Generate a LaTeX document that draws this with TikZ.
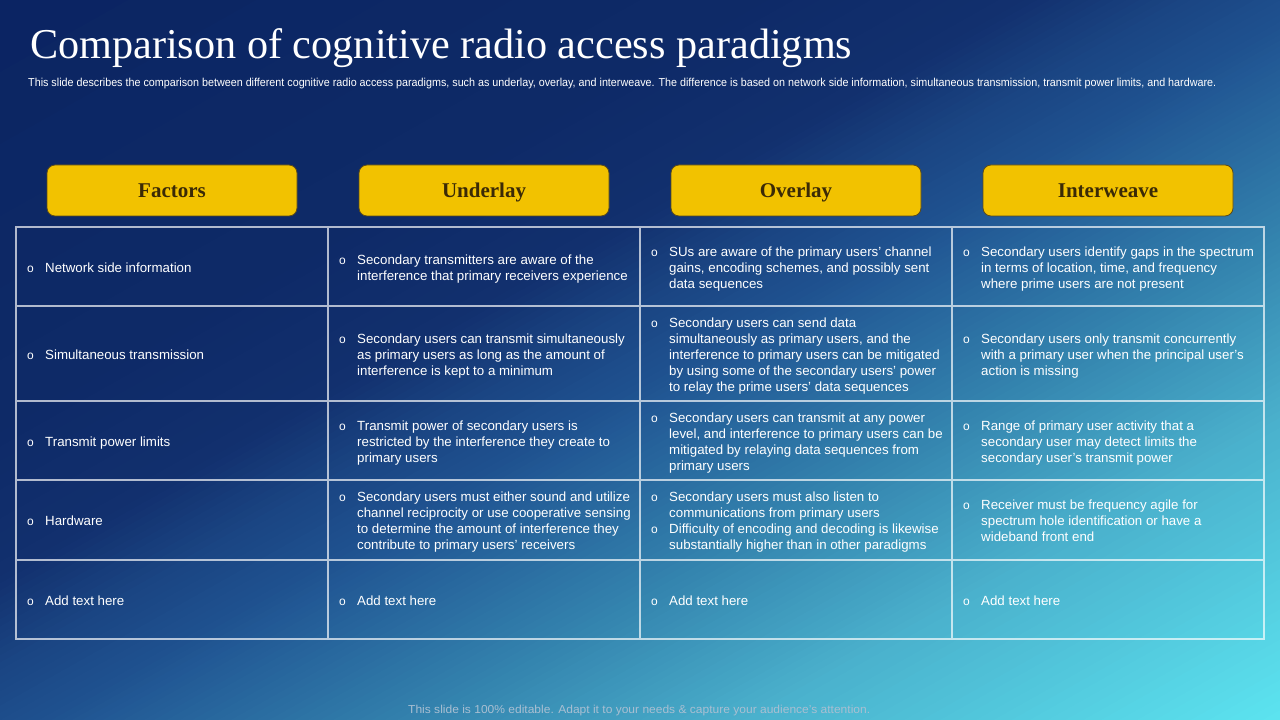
\documentclass[tikz,border=0pt]{standalone}
\usepackage{fontspec}
\usepackage{graphicx}
\newfontfamily\arialf{Liberation Sans}
\newfontfamily\timesf{Liberation Serif}
\definecolor{g0}{HTML}{0B2462}
\definecolor{g1}{HTML}{0E2A68}
\definecolor{g2}{HTML}{12306E}
\definecolor{g3}{HTML}{1A4482}
\definecolor{g4}{HTML}{1F5290}
\definecolor{g5}{HTML}{25609A}
\definecolor{g6}{HTML}{3382AD}
\definecolor{g8}{HTML}{4AB0CC}
\definecolor{g9}{HTML}{5CE4F0}
\definecolor{hdrY}{HTML}{F2C200}
\definecolor{hdrB}{HTML}{5A4A1A}
\definecolor{hdrT}{HTML}{3B2A06}
\definecolor{footc}{HTML}{A9BFD2}
\newcommand{\cbul}{{\fontsize{12}{16}\selectfont o}}
\newcommand{\ctab}[1]{\begin{tabular}{@{}p{18pt}@{}l@{}}#1\end{tabular}}
\tikzset{
  hdr/.style={fill=hdrY, draw=hdrB, line width=0.8pt, rounded corners=8pt,
    minimum width=250pt, minimum height=51pt, inner sep=0pt, text=hdrT,
    text height=14pt, text depth=0pt,
    font=\timesf\fontsize{21}{25}\selectfont\bfseries},
  cell/.style={anchor=west, inner sep=0pt, text=white,
    font=\arialf\fontsize{13.3}{16}\selectfont},
  gridline/.style={draw=white, draw opacity=0.68, line width=1.6pt},
  plain/.style={anchor=base west, inner sep=0pt}
}
\begin{document}
\begin{tikzpicture}[x=1pt,y=1pt]
\useasboundingbox (0,0) rectangle (1280,720);
% background: linear gradient from top-left (navy) to bottom-right (cyan)
\begin{scope}
  \clip (0,0) rectangle (1280,720);
  \fill[g0] (0,0) rectangle (1280,720);
  \begin{scope}[shift={(0,720)}, rotate=-60.64]
    \foreach \ta/\tb/\ca/\cb/\n in {0/0.30/g0/g1/6, 0.30/0.40/g1/g2/10, 0.40/0.46/g2/g3/12, 0.46/0.52/g3/g4/12, 0.52/0.56/g4/g5/10, 0.56/0.66/g5/g6/20, 0.66/0.79/g6/g8/26, 0.79/1.0/g8/g9/30}{
      \foreach \i in {1,...,\n}{
        \pgfmathsetmacro\sa{1255.2*(\ta+(\tb-\ta)*(\i-1)/\n)}
        \pgfmathsetmacro\sb{1255.2*(\ta+(\tb-\ta)*\i/\n)+1}
        \pgfmathsetmacro\pc{(\i-0.5)*100/\n}
        \fill[color=\cb!\pc!\ca] (\sa,-500) rectangle (\sb,1300);
      }
    }
    \fill[g9] (1255.2,-500) rectangle (1800,1300);
  \end{scope}
\end{scope}

% title and subtitle
\node[plain, text=white] (title) at (30,661)
  {\resizebox{822pt}{\height}{\timesf\fontsize{42.5}{50}\selectfont Comparison of cognitive radio access paradigms}};
\node[plain, text=white] (sub) at (28,633.5)
  {\resizebox{1188pt}{\height}{\arialf\fontsize{11.5}{14}\selectfont This slide describes the comparison between different cognitive radio access paradigms, such as underlay, overlay, and interweave. The difference is based on network side information, simultaneous transmission, transmit power limits, and hardware.}};

% headers
\node[hdr] (h1) at (172,529.5) {Factors};
\node[hdr] (h2) at (484,529.5) {Underlay};
\node[hdr] (h3) at (796,529.5) {Overlay};
\node[hdr] (h4) at (1108,529.5) {Interweave};

% grid
\path[gridline] (16,81) rectangle (1264,493)
  (328,81) -- (328,493) (640,81) -- (640,493) (952,81) -- (952,493)
  (16,414) -- (1264,414) (16,319) -- (1264,319) (16,240) -- (1264,240) (16,160) -- (1264,160);

% row 1
\node[cell] (r1c1) at (27,451) {\ctab{\cbul & Network side information}};
\node[cell] (r1c2) at (339,451) {\ctab{\cbul & Secondary transmitters are aware of the\\ & interference that primary receivers experience}};
\node[cell] (r1c3) at (651,451) {\ctab{\cbul & SUs are aware of the primary users’ channel\\ & gains, encoding schemes, and possibly sent\\ & data sequences}};
\node[cell] (r1c4) at (963,451) {\ctab{\cbul & Secondary users identify gaps in the spectrum\\ & in terms of location, time, and frequency\\ & where prime users are not present}};

% row 2
\node[cell] (r2c1) at (27,364) {\ctab{\cbul & Simultaneous transmission}};
\node[cell] (r2c2) at (339,364) {\ctab{\cbul & Secondary users can transmit simultaneously\\ & as primary users as long as the amount of\\ & interference is kept to a minimum}};
\node[cell] (r2c3) at (651,364) {\ctab{\cbul & Secondary users can send data\\ & simultaneously as primary users, and the\\ & interference to primary users can be mitigated\\ & by using some of the secondary users’ power\\ & to relay the prime users’ data sequences}};
\node[cell] (r2c4) at (963,364) {\ctab{\cbul & Secondary users only transmit concurrently\\ & with a primary user when the principal user’s\\ & action is missing}};

% row 3
\node[cell] (r3c1) at (27,277) {\ctab{\cbul & Transmit power limits}};
\node[cell] (r3c2) at (339,277) {\ctab{\cbul & Transmit power of secondary users is\\ & restricted by the interference they create to\\ & primary users}};
\node[cell] (r3c3) at (651,277) {\ctab{\cbul & Secondary users can transmit at any power\\ & level, and interference to primary users can be\\ & mitigated by relaying data sequences from\\ & primary users}};
\node[cell] (r3c4) at (963,277) {\ctab{\cbul & Range of primary user activity that a\\ & secondary user may detect limits the\\ & secondary user’s transmit power}};

% row 4
\node[cell] (r4c1) at (27,197.5) {\ctab{\cbul & Hardware}};
\node[cell] (r4c2) at (339,197.5) {\ctab{\cbul & Secondary users must either sound and utilize\\ & channel reciprocity or use cooperative sensing\\ & to determine the amount of interference they\\ & contribute to primary users’ receivers}};
\node[cell] (r4c3) at (651,197.5) {\ctab{\cbul & Secondary users must also listen to\\ & communications from primary users\\ \cbul & Difficulty of encoding and decoding is likewise\\ & substantially higher than in other paradigms}};
\node[cell] (r4c4) at (963,197.5) {\ctab{\cbul & Receiver must be frequency agile for\\ & spectrum hole identification or have a\\ & wideband front end}};

% row 5
\node[cell] (r5c1) at (27,118) {\ctab{\cbul & Add text here}};
\node[cell] (r5c2) at (339,118) {\ctab{\cbul & Add text here}};
\node[cell] (r5c3) at (651,118) {\ctab{\cbul & Add text here}};
\node[cell] (r5c4) at (963,118) {\ctab{\cbul & Add text here}};

% footer
\node[plain, text=footc] (foot) at (408,6.5)
  {\resizebox{462pt}{\height}{\arialf\fontsize{11.5}{14}\selectfont This slide is 100\% editable. Adapt it to your needs \& capture your audience’s attention.}};
\end{tikzpicture}
\end{document}
